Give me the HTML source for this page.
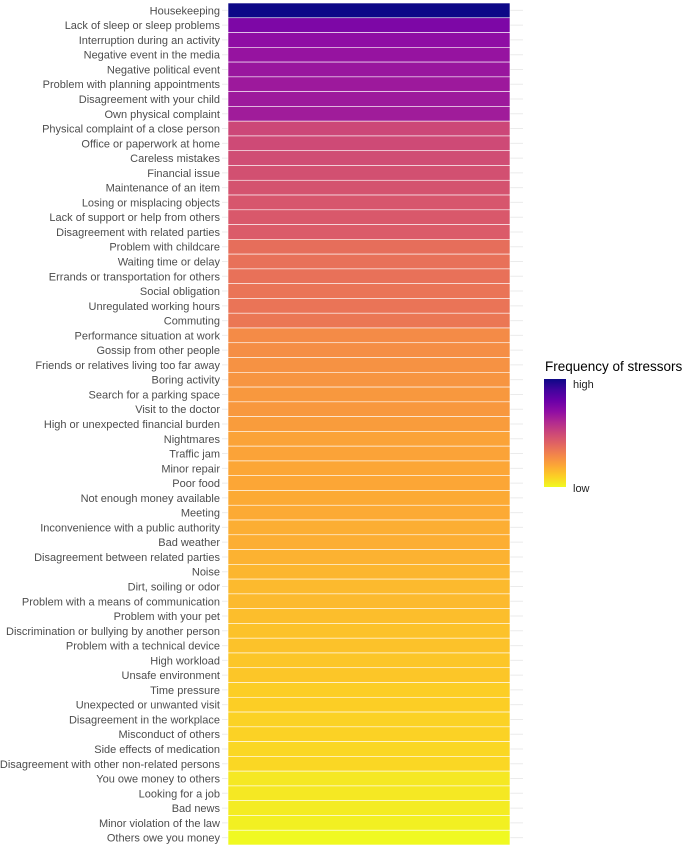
<!DOCTYPE html>
<html><head><meta charset="utf-8"><style>
body{margin:0;background:#fff;}
svg text{font-family:"Liberation Sans",sans-serif;}
</style></head><body>
<svg id="chart" width="685" height="847">
<defs><linearGradient id="lg" x1="0" y1="0" x2="0" y2="1">
<stop offset="0" stop-color="#0d0887"/><stop offset="0.1" stop-color="#41049d"/><stop offset="0.2" stop-color="#6a00a8"/><stop offset="0.3" stop-color="#8f0da4"/><stop offset="0.4" stop-color="#b12a90"/><stop offset="0.5" stop-color="#cc4778"/><stop offset="0.6" stop-color="#e16462"/><stop offset="0.7" stop-color="#f2844b"/><stop offset="0.8" stop-color="#fca636"/><stop offset="0.9" stop-color="#fcce25"/><stop offset="1" stop-color="#f0f921"/>
</linearGradient></defs>
<g id="grid"></g><g id="tiles"></g><g id="labels"></g>
<g>
<text x="545" y="371" font-size="13.5" fill="#000">Frequency of stressors</text>
<rect x="544" y="379" width="22" height="108" fill="url(#lg)"/>
<text x="573" y="388" font-size="11" fill="#222">high</text>
<text x="573" y="492" font-size="11" fill="#222">low</text>
</g>
</svg>
<script>
const categories=["Housekeeping","Lack of sleep or sleep problems","Interruption during an activity","Negative event in the media","Negative political event","Problem with planning appointments","Disagreement with your child","Own physical complaint","Physical complaint of a close person","Office or paperwork at home","Careless mistakes","Financial issue","Maintenance of an item","Losing or misplacing objects","Lack of support or help from others","Disagreement with related parties","Problem with childcare","Waiting time or delay","Errands or transportation for others","Social obligation","Unregulated working hours","Commuting","Performance situation at work","Gossip from other people","Friends or relatives living too far away","Boring activity","Search for a parking space","Visit to the doctor","High or unexpected financial burden","Nightmares","Traffic jam","Minor repair","Poor food","Not enough money available","Meeting","Inconvenience with a public authority","Bad weather","Disagreement between related parties","Noise","Dirt, soiling or odor","Problem with a means of communication","Problem with your pet","Discrimination or bullying by another person","Problem with a technical device","High workload","Unsafe environment","Time pressure","Unexpected or unwanted visit","Disagreement in the workplace","Misconduct of others","Side effects of medication","Disagreement with other non-related persons","You owe money to others","Looking for a job","Bad news","Minor violation of the law","Others owe you money"];
const frequencies=[100,75,70,68,67,66,66,65,50,49,48,47,46,45,44,43,37,36,36,35,35,34,28,27,26,25,24,24,23,21,21,20,20,19,19,18,18,17,16,15,15,14,13,13,12,12,10,10,9,9,8,8,4,4,3,2,0];
const stops=[[13,8,135],[65,4,157],[106,0,168],[143,13,164],[177,42,144],[204,71,120],[225,100,98],[242,132,75],[252,166,54],[252,206,37],[240,249,33]];
function plasma(t){t=Math.max(0,Math.min(1,t));const p=t*10;const i=Math.min(9,Math.floor(p));const f=p-i;const c=stops[i].map((v,k)=>Math.round(v+(stops[i+1][k]-v)*f));return `rgb(${c})`;}
const maxV=Math.max(...frequencies),minV=Math.min(...frequencies);
const plotTop=3,plotBottom=845,x0=228,x1=510,nRows=categories.length,rowH=(plotBottom-plotTop)/nRows;
const yPos=i=>plotTop+i*rowH;
const NS="http://www.w3.org/2000/svg";
const G=document.getElementById('grid'),T=document.getElementById('tiles'),L=document.getElementById('labels');
categories.forEach((c,i)=>{
 const yc=yPos(i)+rowH/2;
 const gl=document.createElementNS(NS,'line');
 gl.setAttribute('x1',222);gl.setAttribute('x2',523);gl.setAttribute('y1',yc);gl.setAttribute('y2',yc);gl.setAttribute('stroke','#ebebeb');gl.setAttribute('stroke-width','1');
 
 
 G.appendChild(gl);
 const r=document.createElementNS(NS,'rect');
 r.setAttribute('x',x0);r.setAttribute('y',yPos(i));r.setAttribute('width',x1-x0);r.setAttribute('height',rowH);
 r.setAttribute('fill',plasma(1-(frequencies[i]-minV)/(maxV-minV)));r.setAttribute('stroke','#fff');r.setAttribute('stroke-width','0.6');
 
 
 T.appendChild(r);
 const t=document.createElementNS(NS,'text');
 t.setAttribute('x',220);t.setAttribute('y',yc+4);t.setAttribute('text-anchor','end');t.setAttribute('font-size','11');t.setAttribute('fill','#4d4d4d');
 t.textContent=c;
 
 
 L.appendChild(t);
});
</script>
</body></html>
